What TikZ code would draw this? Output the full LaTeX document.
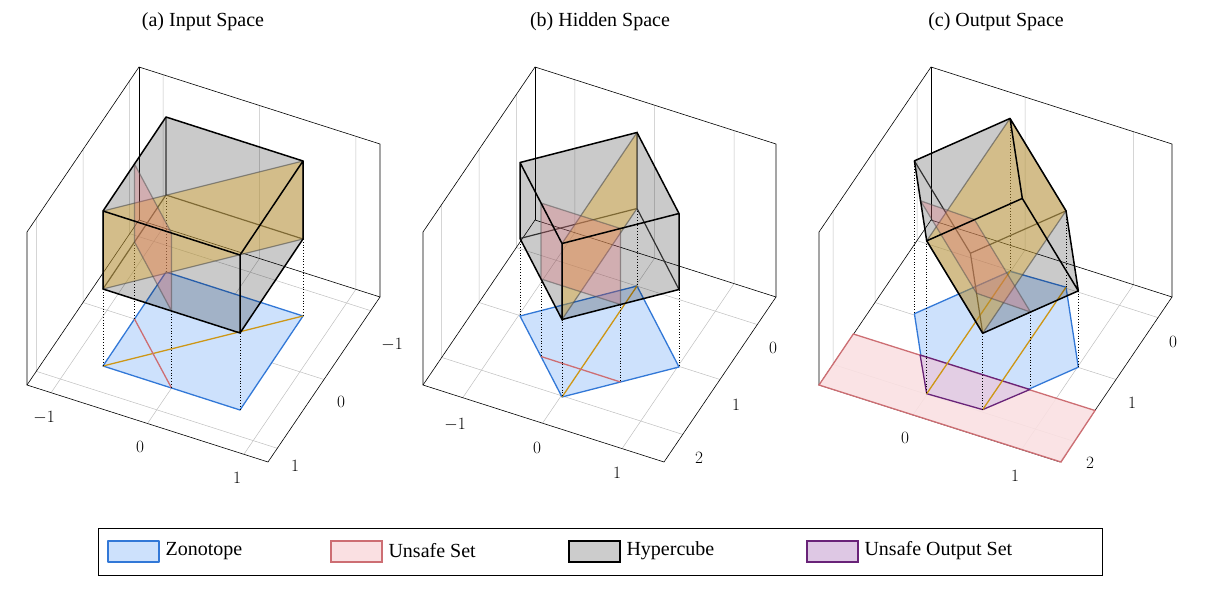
\documentclass[tikz,border=0pt]{standalone}
\usepackage{fontspec}
\setmainfont{Liberation Serif}
\begin{document}
\definecolor{zline}{RGB}{50,120,215}
\definecolor{zfill}{RGB}{205,225,252}
\definecolor{uline}{RGB}{205,110,115}
\definecolor{ufill}{RGB}{250,224,226}
\definecolor{pline}{RGB}{105,35,120}
\definecolor{pfill}{RGB}{222,200,228}
\definecolor{oline}{RGB}{205,150,20}
\definecolor{yfill}{RGB}{222,175,60}
\definecolor{rfill}{RGB}{225,110,120}
\tikzset{
 grid/.style={black!25,line width=0.5pt},
 box/.style={black,line width=0.6pt},
 zono/.style={draw=zline,fill=zfill,line width=1.3pt,line join=round},
 unsafe/.style={draw=uline,fill=ufill,line width=1.3pt},
 uout/.style={draw=pline,fill=pfill,fill opacity=.75,draw opacity=1,line width=1.3pt,line join=round},
 oproj/.style={draw=oline,line width=1.3pt},
 rproj/.style={draw=uline,line width=1.3pt},
 dots/.style={black,dotted,line width=0.8pt},
 cubefill/.style={fill=black,fill opacity=0.11},
 hidedge/.style={black!75,line width=1.2pt},
 visedge/.style={black,line width=1.5pt,line join=round},
 yplane/.style={fill=yfill,fill opacity=.45,draw=black!70,draw opacity=.6,line width=1.2pt},
 rplane/.style={fill=rfill,fill opacity=.3,draw=black!70,draw opacity=.5,line width=1.2pt},
 tick/.style={font=\fontsize{19}{22}\selectfont},
 title/.style={font=\fontsize{20}{24}\selectfont},
 leg/.style={font=\fontsize{20}{24}\selectfont,anchor=west}
}
\newcommand\mkpt[4]{\coordinate (#1) at ({\cx+(#2)*\gax+(#3)*\gbx+(#4)*\gcx},{\cy+(#2)*\gay+(#3)*\gby+(#4)*\gcy});}
\newcommand\mkfl[4]{\coordinate (#1) at ({\fx+(#2)*\fax+(#3)*\fbx+(#4)*\fcx},{\fy+(#2)*\fay+(#3)*\fby+(#4)*\fcy});}
\newcommand\mkall{\foreach \a/\na in {-1/m,1/p}{\foreach \b/\nb in {-1/m,1/p}{\foreach \c/\nc in {-1/m,1/p}{\mkpt{v\na\nb\nc}{\a}{\b}{\c}\mkfl{f\na\nb\nc}{\a}{\b}{\c}}}}}
\newcommand\cubefaces{\foreach \A/\B/\C/\D in {vmmm/vmpm/vmpp/vmmp,vpmm/vppm/vppp/vpmp,vmmm/vpmm/vpmp/vmmp,vmpm/vppm/vppp/vmpp,vmmm/vpmm/vppm/vmpm,vmmp/vpmp/vppp/vmpp}{\fill[cubefill] (\A)--(\B)--(\C)--(\D)--cycle;}}
\newcommand\hid[4]{\draw[hidedge] (#1)--(#2) (#1)--(#3) (#1)--(#4);}
\newcommand\vis[7]{\draw[visedge] (#2)--(#3)--(#4)--(#5)--(#6)--(#7)--cycle (#1)--(#3) (#1)--(#5) (#1)--(#7);}
\newcommand\axbox[3]{%
\begin{scope}[xshift=#1]
 \foreach \f in {#2}{
  \draw[grid] ({27+\f*241},{385+\f*77}) -- ({139+\f*241},{220+\f*77}) -- ++(0,-153);}
 \foreach \f in {#3}{
  \draw[grid] ({268+\f*112},{462-\f*165}) -- ({27+\f*112},{385-\f*165}) -- ++(0,-153);}
 \draw[box] (27,385) -- (268,462) -- (380,297) -- (139,220) -- cycle;
 \draw[box] (27,385) -- (27,232) -- (139,67) -- (380,144) -- (380,297);
 \draw[box] (139,220) -- (139,67);
\end{scope}}
\begin{tikzpicture}[x=1pt,y=-1pt]
\useasboundingbox (0,0) rectangle (1206,604);
% titles
\node[title] (ta) at (203,22) {(a) Input Space};
\node[title] (tb) at (600,22) {(b) Hidden Space};
\node[title] (tc) at (996,22) {(c) Output Space};
% axes boxes
\axbox{0}{0.1,0.5,0.9}{0.083,0.5,0.917}
\axbox{396}{0.165,0.496,0.826}{0.167,0.5,0.833}
\axbox{792}{0.39,0.84}{0.125,0.5,0.875}
% tick labels
\node[tick] (xa1) at (44,418) {$-1$};
\node[tick] (xa2) at (140,447) {$0$};
\node[tick] (xa3) at (237,478) {$1$};
\node[tick] (ya1) at (295,466) {$1$};
\node[tick] (ya2) at (341,402) {$0$};
\node[tick] (ya3) at (392,345) {$-1$};
\node[tick] (xb1) at (455,425) {$-1$};
\node[tick] (xb2) at (537,448) {$0$};
\node[tick] (xb3) at (617,473) {$1$};
\node[tick] (yb1) at (699,458) {$2$};
\node[tick] (yb2) at (736,405) {$1$};
\node[tick] (yb3) at (773,348) {$0$};
\node[tick] (xc1) at (905,438) {$0$};
\node[tick] (xc2) at (1015,476) {$1$};
\node[tick] (yc1) at (1090,463) {$2$};
\node[tick] (yc2) at (1132,403) {$1$};
\node[tick] (yc3) at (1173,342) {$0$};
% ================= panel (a)
\def\cx{203}\def\cy{225}\def\gax{68.5}\def\gay{22}\def\gbx{31.5}\def\gby{-47}\def\gcx{0}\def\gcy{-39}
\def\fx{203}\def\fy{341}\def\fax{68.5}\def\fay{22}\def\fbx{31.5}\def\fby{-47}\def\fcx{0}\def\fcy{0}
\mkall
\mkpt{ra1}{-1}{0}{1}\mkpt{ra2}{0}{-1}{1}\mkpt{ra3}{0}{-1}{-1}\mkpt{ra4}{-1}{0}{-1}
\mkfl{rfa1}{-1}{0}{0}\mkfl{rfa2}{0}{-1}{0}
\draw[zono] (fmmm)--(fpmm)--(fppm)--(fmpm)--cycle;
\draw[oproj] (fmmm)--(fppm);
\draw[rproj] (rfa1)--(rfa2);
\foreach \v/\w in {vmmm/fmmm,vpmm/fpmm,vppm/fppm,vmpm/fmpm,ra3/rfa2,ra4/rfa1}{\draw[dots] (\v)--(\w);}
\hid{vmpm}{vppm}{vmmm}{vmpp}
\cubefaces
\draw[yplane] (vmmp)--(vppp)--(vppm)--(vmmm)--cycle;
\draw[rplane] (ra1)--(ra2)--(ra3)--(ra4)--cycle;
\vis{vpmp}{vppm}{vpmm}{vmmm}{vmmp}{vmpp}{vppp}
% ================= panel (b)
\def\cx{599.5}\def\cy{226}\def\gax{21}\def\gay{40.5}\def\gbx{58.5}\def\gby{-15}\def\gcx{0}\def\gcy{-38}
\def\fx{599.5}\def\fy{341.5}\def\fax{21}\def\fay{40.5}\def\fbx{58.5}\def\fby{-15}\def\fcx{0}\def\fcy{0}
\mkall
\mkpt{rb1}{0}{-1}{1}\mkpt{rb2}{1}{0}{1}\mkpt{rb3}{1}{0}{-1}\mkpt{rb4}{0}{-1}{-1}
\mkfl{rfb1}{0}{-1}{0}\mkfl{rfb2}{1}{0}{0}
\draw[zono] (fmmm)--(fpmm)--(fppm)--(fmpm)--cycle;
\draw[oproj] (fpmm)--(fmpm);
\draw[rproj] (rfb1)--(rfb2);
\foreach \v/\w in {vmmm/fmmm,vpmm/fpmm,vppm/fppm,vmpm/fmpm,rb4/rfb1,rb3/rfb2}{\draw[dots] (\v)--(\w);}
\hid{vmpm}{vppm}{vmmm}{vmpp}
\cubefaces
\draw[yplane] (vpmp)--(vmpp)--(vmpm)--(vpmm)--cycle;
\draw[rplane] (rb1)--(rb2)--(rb3)--(rb4)--cycle;
\vis{vpmp}{vppm}{vpmm}{vmmm}{vmmp}{vmpp}{vppp}
% ================= panel (c)
\def\cx{996.35}\def\cy{225.85}\def\gax{-6.15}\def\gay{-40}\def\gbx{28}\def\gby{46.2}\def\gcx{-47.8}\def\gcy{21.2}
\def\fx{996.35}\def\fy{340.45}\def\fax{-6.15}\def\fay{-40}\def\fbx{28}\def\fby{7.95}\def\fcx{-47.8}\def\fcy{21.2}
\mkall
\mkpt{rc1}{0}{-1}{1}\mkpt{rc2}{-1}{-1}{0}\mkpt{rc3}{-1}{1}{0}\mkpt{rc4}{0}{1}{1}
\coordinate (ul) at (920.1,355);
\coordinate (ur) at (1029.9,389.5);
\draw[zono] (fpmp)--(fmmp)--(fmpp)--(fmpm)--(fppm)--(fpmm)--cycle;
\draw[unsafe,fill opacity=.9] (819,385) -- (1061,462) -- (1095,410.5) -- (853.3,334) -- cycle;
\draw[uout] (ul)--(fmmp)--(fmpp)--(ur)--cycle;
\draw[oproj] (fmmp)--(fpmm) (fmpp)--(fppm);
\foreach \v/\w in {vpmp/fpmp,vmmp/fmmp,vmpp/fmpp,vmpm/fmpm,vppm/fppm,vpmm/fpmm}{\draw[dots] (\v)--(\w);}
\draw[dots] (rc3) -- ++(0,75);
\hid{vppp}{vmpp}{vpmp}{vppm}
\cubefaces
\draw[yplane] (vpmm)--(vmmp)--(vmpp)--(vppm)--cycle;
\draw[rplane] (rc1)--(rc2)--(rc3)--(rc4)--cycle;
\vis{vmmm}{vmpp}{vmmp}{vpmp}{vpmm}{vppm}{vmpm}
% ================= legend
\draw[black,line width=0.6pt] (98,528) rectangle (1102,575);
\draw[zono] (108,541) rectangle (159,562);
\node[leg] (l1) at (162,551) {Zonotope};
\draw[unsafe] (331,541) rectangle (382,562);
\node[leg] (l2) at (385,551) {Unsafe Set};
\draw[fill=black!20,draw=black,line width=1.5pt] (569,541) rectangle (620,562);
\node[leg] (l3) at (623,551) {Hypercube};
\draw[draw=pline,fill=pfill,line width=1.3pt] (807,541) rectangle (858,562);
\node[leg] (l4) at (861,551) {Unsafe Output Set};
\end{tikzpicture}
\end{document}
